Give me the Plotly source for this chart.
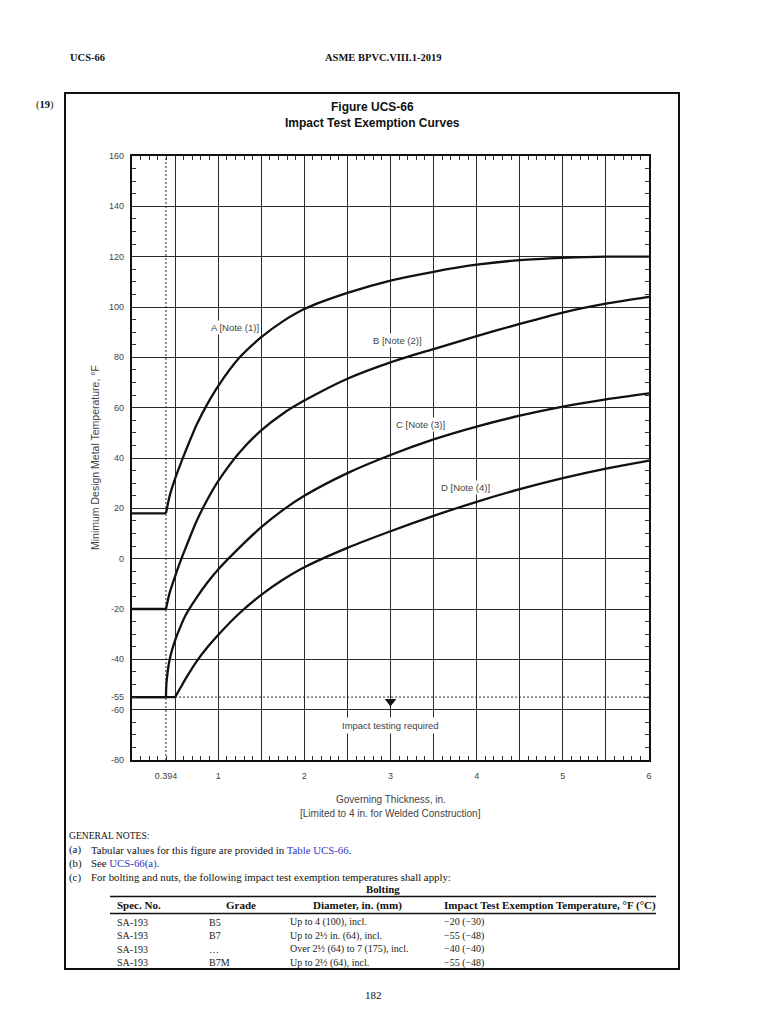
import plotly.graph_objects as go

# ---------------- data ----------------
thk_A = [0.394, 0.4375, 0.5, 0.5625, 0.625, 0.75, 0.875, 1.0, 1.25, 1.5, 1.75, 2.0, 2.5, 3.0, 3.5, 4.0, 4.5, 5.0, 5.5, 6.0]
temp_A = [18, 25, 31.8, 37.6, 43, 53.2, 61.5, 68.6, 80, 88, 94.3, 99.2, 105.6, 110.5, 114, 116.8, 118.6, 119.5, 120, 120]

thk_B = [0.394, 0.4375, 0.5, 0.5625, 0.625, 0.75, 0.875, 1.0, 1.25, 1.5, 1.75, 2.0, 2.5, 3.0, 3.5, 4.0, 4.5, 5.0, 5.5, 6.0]
temp_B = [-20, -13.5, -7, -1, 4.5, 15, 23.5, 30.8, 42.3, 51, 57.6, 62.8, 71.5, 78, 83.3, 88.4, 93.3, 97.8, 101.3, 104]

thk_C = [0.394, 0.40, 0.4375, 0.5, 0.5625, 0.625, 0.75, 0.875, 1.0, 1.25, 1.5, 1.75, 2.0, 2.5, 3.0, 3.5, 4.0, 4.5, 5.0, 5.5, 6.0]
temp_C = [-55, -49.5, -40, -32.5, -27, -22.3, -15.5, -9.5, -4.3, 4.5, 12.5, 19.3, 25, 34, 41.2, 47.4, 52.5, 56.8, 60.4, 63.3, 65.7]

thk_D = [0.5, 0.5625, 0.625, 0.75, 0.875, 1.0, 1.25, 1.5, 1.75, 2.0, 2.5, 3.0, 3.5, 4.0, 4.5, 5.0, 5.5, 6.0]
temp_D = [-55, -51.3, -47.6, -40.8, -35.2, -30.3, -21.6, -14.4, -8.4, -3.4, 4.3, 10.9, 17, 22.6, 27.6, 32, 35.8, 39]

curve_names = ["A [Note (1)]", "B [Note (2)]", "C [Note (3)]", "D [Note (4)]"]

exempt_thk = 0.394
min_temp = -55
marker_thk = 3.0

x_tickvals = [0.394, 1, 2, 3, 4, 5, 6]
x_ticktext = ["0.394", "1", "2", "3", "4", "5", "6"]
y_tickvals = [160, 140, 120, 100, 80, 60, 40, 20, 0, -20, -40, -55, -60, -80]
y_ticktext = ["160", "140", "120", "100", "80", "60", "40", "20", "0", "-20", "-40", "-55", "-60", "-80"]

spec_no = ["SA-193", "SA-193", "SA-193", "SA-193"]
grade = ["B5", "B7", "…", "B7M"]
diameter = ["Up to 4 (100), incl.", "Up to 2½ in. (64), incl.", "Over 2½ (64) to 7 (175), incl.", "Up to 2½ (64), incl."]
exempt_temp = ["−20 (−30)", "−55 (−48)", "−40 (−40)", "−55 (−48)"]

# ---------------- layout helpers (page pixel coordinates) ----------------
PAGE_W, PAGE_H = 768, 1024
OFF = 8  # browser body margin
L, R, T, B = 132, 649, 156, 760


def px(x):
    return (x - L) / (R - L)


def py(y):
    return (B - y) / (B - T)


SANS = "Liberation Sans, Arial, sans-serif"
SERIF = "Liberation Serif, Times New Roman, serif"
GREY = "#444444"
INK = "#111111"

fig = go.Figure()

# reference lines
fig.add_trace(go.Scatter(x=[exempt_thk, exempt_thk], y=[-80, 160], mode="lines",
                         line=dict(color="#222", width=1, dash="2px,2px"),
                         hoverinfo="skip", showlegend=False))
fig.add_trace(go.Scatter(x=[thk_D[0], 6], y=[min_temp, min_temp], mode="lines",
                         line=dict(color="#222", width=1, dash="2px,2px"),
                         hoverinfo="skip", showlegend=False))

# curves: flat portion + rising portion
for thk, temp in [(thk_A, temp_A), (thk_B, temp_B), (thk_C, temp_C), (thk_D, temp_D)]:
    fig.add_trace(go.Scatter(x=[0, thk[0]], y=[temp[0], temp[0]], mode="lines",
                             line=dict(color=INK, width=2.3), hoverinfo="skip", showlegend=False))
    fig.add_trace(go.Scatter(x=thk, y=temp, mode="lines",
                             line=dict(color=INK, width=2.3, shape="spline", smoothing=0.7),
                             hoverinfo="skip", showlegend=False))

# marker
fig.add_trace(go.Scatter(x=[marker_thk], y=[min_temp - 1.8], mode="markers",
                         marker=dict(symbol="triangle-down", size=10, color=INK),
                         hoverinfo="skip", showlegend=False))

# dummy trace for label axes
fig.add_trace(go.Scatter(x=[None], y=[None], xaxis="x2", yaxis="y2", mode="markers",
                         showlegend=False, hoverinfo="skip"))

axis_common = dict(showticklabels=False, ticks="", showgrid=True, gridcolor="#2a2a2a", gridwidth=1,
                   showline=True, linecolor=INK, linewidth=1.5, mirror="ticks", zeroline=False)

fig.update_layout(
    width=PAGE_W - OFF, height=PAGE_H - OFF,
    margin=dict(l=L - OFF, r=PAGE_W - R, t=T - OFF, b=PAGE_H - B),
    paper_bgcolor="white", plot_bgcolor="white",
    showlegend=False,
    xaxis=dict(range=[0, 6], tickmode="linear", tick0=0, dtick=0.5,
               minor=dict(tickmode="linear", tick0=0, dtick=0.1, ticks="inside", ticklen=4,
                          tickwidth=1, tickcolor="#333", showgrid=False),
               **axis_common),
    yaxis=dict(range=[-80, 160], tickmode="linear", tick0=0, dtick=20,
               minor=dict(tickmode="linear", tick0=0, dtick=5, ticks="inside", ticklen=4,
                          tickwidth=1, tickcolor="#333", showgrid=False),
               **axis_common),
    xaxis2=dict(overlaying="x", anchor="y", side="bottom", range=[0, 6],
                tickmode="array", tickvals=x_tickvals, ticktext=x_ticktext,
                showgrid=False, zeroline=False, showline=False, ticks="",
                ticklabelstandoff=9, tickfont=dict(family=SANS, size=9, color=GREY)),
    yaxis2=dict(overlaying="y", anchor="x", side="left", range=[-80, 160],
                tickmode="array", tickvals=y_tickvals, ticktext=y_ticktext,
                showgrid=False, zeroline=False, showline=False, ticks="",
                ticklabelstandoff=7, tickfont=dict(family=SANS, size=9, color=GREY)),
)

ann = []


def page_text(x, y, text, size, family=SERIF, color=INK, xanchor="center", **kw):
    ann.append(dict(x=px(x), y=py(y), xref="paper", yref="paper", text=text, showarrow=False,
                    xanchor=xanchor, yanchor="middle", font=dict(family=family, size=size, color=color), **kw))


# curve labels
label_pos = [(1.2, 91.7), (3.08, 86.6), (3.35, 53.4), (3.87, 28.1)]
for name, (lx, ly) in zip(curve_names, label_pos):
    ann.append(dict(x=lx, y=ly, xref="x", yref="y", text=name, showarrow=False,
                    xanchor="center", yanchor="middle",
                    bgcolor="white", borderpad=1, font=dict(family=SANS, size=9.5, color=GREY)))
ann.append(dict(x=marker_thk, y=-66.1, xref="x", yref="y", text="Impact testing required",
                showarrow=False, xanchor="center", yanchor="middle", bgcolor="white", borderpad=2,
                font=dict(family=SANS, size=9.5, color=GREY)))

# axis titles
page_text(95, 458, "Minimum Design Metal Temperature, °F", 10.5, family=SANS, color=GREY, textangle=-90)
page_text(390.5, 800, "Governing Thickness, in.", 10, family=SANS, color=GREY)
page_text(390.5, 814, "[Limited to 4 in. for Welded Construction]", 10, family=SANS, color=GREY)

# figure title
page_text(372, 107, "<b>Figure UCS-66</b>", 12, family=SANS)
page_text(372, 123, "<b>Impact Test Exemption Curves</b>", 12, family=SANS)

# page header
page_text(68, 57, "<b>UCS-66</b>", 10.5, xanchor="left")
page_text(383, 57, "<b>ASME BPVC.VIII.1-2019</b>", 10.5)
page_text(45, 105, "(<b>19</b>)", 10.5)

# general notes
BLUE = "#3333cc"
page_text(67, 835, "GENERAL NOTES:", 9.6, xanchor="left")
notes = [
    (849.5, "(a)", "Tabular values for this figure are provided in <span style='color:%s'>Table UCS-66</span>." % BLUE),
    (863, "(b)", "See <span style='color:%s'>UCS-66(a)</span>." % BLUE),
    (877, "(c)", "For bolting and nuts, the following impact test exemption temperatures shall apply:"),
]
for yy, tag, txt in notes:
    page_text(67, yy, tag, 10.8, xanchor="left")
    page_text(89, yy, txt, 10.8, xanchor="left")

# bolting table
page_text(383, 889, "<b>Bolting</b>", 10.8)
headers = [(115, "left", "Spec. No."), (241, "center", "Grade"), (357, "center", "Diameter, in. (mm)"),
           (442, "left", "Impact Test Exemption Temperature, °F (°C)")]
for hx, anc, txt in headers:
    page_text(hx, 905, "<b>%s</b>" % txt, 11, xanchor=anc)
row_y = [922, 935.5, 949, 962.5]
for i, ry in enumerate(row_y):
    for cx, val in [(115, spec_no[i]), (207, grade[i]), (288, diameter[i]), (442, exempt_temp[i])]:
        page_text(cx, ry, val, 10, color="#222", xanchor="left")

# page number
page_text(373, 995, "182", 11)

fig.update_layout(annotations=ann)

shapes = [
    dict(type="rect", xref="paper", yref="paper", x0=px(65), x1=px(679), y0=py(969), y1=py(93),
         line=dict(color=INK, width=2)),
    dict(type="line", xref="paper", yref="paper", x0=px(110), x1=px(656), y0=py(896.5), y1=py(896.5),
         line=dict(color=INK, width=1.3)),
    dict(type="line", xref="paper", yref="paper", x0=px(110), x1=px(656), y0=py(913.5), y1=py(913.5),
         line=dict(color=INK, width=1.5)),
]
fig.update_layout(shapes=shapes)

fig.write_html("out.html")
